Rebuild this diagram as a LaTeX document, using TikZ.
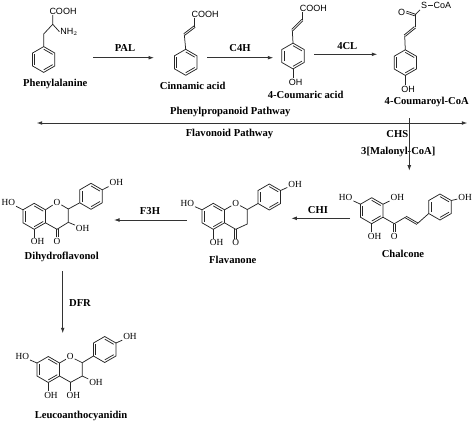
\documentclass[tikz,border=0pt]{standalone}
\usepackage{fontspec}
\setmainfont{Liberation Serif}
\newfontfamily\atomfont{Liberation Sans}
\usetikzlibrary{calc}
\usetikzlibrary{arrows.meta}

\tikzset{
  bond/.style={line width=0.75pt,black!85},
  arr/.style={line width=0.85pt,black!80,-{Latex[length=5.5pt,width=3.8pt]}},
  atom/.style={inner sep=0.8pt,font=\atomfont\fontsize{9}{10}\selectfont},
  atomr/.style={inner sep=0.8pt,font=\fontsize{9.3}{10}\selectfont},
  compound/.style={inner sep=0pt,font=\bfseries\fontsize{10.6}{12}\selectfont},
}
% ring with vertices 1..6 clockwise from the top
\newcommand{\benzene}[4]{%
  \coordinate (#1c) at (#2,#3);
  \foreach \k in {1,...,6} {\coordinate (#1\k) at ($(#1c)+({-150+60*\k}:#4)$);}
  \draw[bond] (#11)--(#12)--(#13)--(#14)--(#15)--(#16)--cycle;
  \foreach \k/\m in {1/2,3/4,5/6} {\draw[bond] ($(#1\k)!.2!(#1c)$)--($(#1\m)!.2!(#1c)$);}
}
% two parallel strokes between two points
\newcommand{\dbond}[2]{%
  \draw[bond] ($#1!0.9pt!90:#2$)--($#2!0.9pt!-90:#1$);
  \draw[bond] ($#1!0.9pt!-90:#2$)--($#2!0.9pt!90:#1$);
}

\begin{document}
\begin{tikzpicture}[x=1pt,y=-1pt]
\useasboundingbox (0,0) rectangle (474,424);

% Phenylalanine
\benzene{a}{43.7}{59.5}{12.9}
\coordinate (a7) at (43.7,34);
\coordinate (a8) at (52.7,24.3);
\node (a9) at (63,11) [atom] {COOH};
\node (a10) at (69,31.7) [atom] {NH$_2$};
\draw[bond] (a1)--(a7)--(a8)--(a8|-a9.south);
\draw[bond] (a8)--(a10.west);
\node (phe) at (55.3,84.3) [compound] {Phenylalanine};

% Cinnamic acid
\benzene{b}{185.7}{62.3}{13}
\coordinate (b7) at (184.3,34.5);
\coordinate (b8) at (194.7,26.5);
\node (b9) at (205,14) [atom] {COOH};
\draw[bond] (b1)--(b7);
\dbond{(b7)}{(b8)}
\draw[bond] (b8)--(b8|-b9.south);
\node (cin) at (192.7,86) [compound] {Cinnamic acid};

% 4-Coumaric acid
\benzene{e}{293}{56}{12.9}
\coordinate (e7) at (292.3,30);
\coordinate (e8) at (302.3,20);
\node (e9) at (313.3,8.3) [atom] {COOH};
\node (e10) at (295.7,82.3) [atom] {OH};
\draw[bond] (e1)--(e7);
\dbond{(e7)}{(e8)}
\draw[bond] (e8)--(e8|-e9.south);
\draw[bond] (e4)--(e4|-e10.north);
\node (cou) at (305.7,94.7) [compound] {4-Coumaric acid};

% 4-Coumaroyl-CoA
\benzene{g}{405.3}{62.6}{12.8}
\coordinate (g7) at (404.7,35.7);
\coordinate (g8) at (415,27.3);
\coordinate (g9) at (415,15);
\node (g10) at (401.7,12) [atom] {O};
\node (g11) at (424,5.7) [atom] {S};
\node (g12) at (442.3,5.7) [atom] {CoA};
\node (g13) at (408,89) [atom] {OH};
\draw[bond] (g1)--(g7);
\dbond{(g7)}{(g8)}
\draw[bond] (g8)--(g9);
\dbond{(g9)}{(g10.east)}
\draw[bond] (g9)--(g11);
\draw[bond] (g11)--(g12);
\draw[bond] (g4)--(g4|-g13.north);
\node (coa) at (426.7,102) [compound] {4-Coumaroyl-CoA};

% Chalcone
\benzene{c}{371.7}{210.7}{13}
\benzene{h}{440}{207}{13}
\coordinate (c7) at (394.3,223.7);
\coordinate (c8) at (405.7,217);
\coordinate (c9) at (417.3,223.7);
\node (c10) at (345.7,197.3) [atomr] {HO};
\node (c11) at (397.3,197.3) [atomr] {OH};
\node (c12) at (374.7,236) [atomr] {OH};
\node (c13) at (394.3,236.3) [atomr] {O};
\node (c14) at (465,197.3) [atomr] {OH};
\draw[bond] (c6)--(c10);
\draw[bond] (c2)--(c11);
\draw[bond] (c4)--(c4|-c12.north);
\draw[bond] (c3)--(c7)--(c8);
\dbond{(c7)}{(c7|-c13.north)}
\dbond{(c8)}{(c9)}
\draw[bond] (c9)--(h5);
\draw[bond] (h2)--(c14);
\node (cha) at (403,254.3) [compound] {Chalcone};

% Flavanone
\benzene{f}{213.3}{216.3}{13}
\benzene{j}{269.3}{197}{13}
\node (f7) at (235.7,203.3) [atomr] {O};
\coordinate (f8) at (247.3,209.5);
\coordinate (f9) at (247.3,224);
\coordinate (f10) at (235.7,229.3);
\node (f11) at (235.7,242.7) [atomr] {O};
\node (f12) at (187.3,203.3) [atomr] {HO};
\node (f13) at (216.7,242.7) [atomr] {OH};
\node (f14) at (295,184) [atomr] {OH};
\draw[bond] (f2)--(f7)--(f8)--(f9)--(f10)--(f3);
\dbond{(f10)}{(f10|-f11.north)}
\draw[bond] (f6)--(f12);
\draw[bond] (f4)--(f4|-f13.north);
\draw[bond] (f8)--(j5);
\draw[bond] (j2)--(f14);
\node (fla) at (232.8,260) [compound] {Flavanone};

% Dihydroflavonol
\benzene{d}{34.2}{216.3}{13}
\benzene{k}{91}{196.3}{13}
\node (d7) at (57,202.3) [atomr] {O};
\coordinate (d8) at (68.3,209);
\coordinate (d9) at (68.3,222.3);
\coordinate (d10) at (57,229.3);
\node (d11) at (57,241.3) [atomr] {O};
\node (d12) at (8.3,202.3) [atomr] {HO};
\node (d13) at (37.7,241.7) [atomr] {OH};
\node (d14) at (82.7,228.3) [atomr] {OH};
\node (d15) at (116.3,182.7) [atomr] {OH};
\draw[bond] (d2)--(d7)--(d8)--(d9)--(d10)--(d3);
\dbond{(d10)}{(d10|-d11.north)}
\draw[bond] (d6)--(d12);
\draw[bond] (d4)--(d4|-d13.north);
\draw[bond] (d9)--(d14);
\draw[bond] (d8)--(k5);
\draw[bond] (k2)--(d15);
\node (dih) at (61.7,256.7) [compound] {Dihydroflavonol};

% Leucoanthocyanidin
\benzene{l}{48.3}{369.5}{13}
\benzene{m}{104.7}{349.5}{13}
\node (l7) at (70.3,356.7) [atomr] {O};
\coordinate (l8) at (82.3,362.7);
\coordinate (l9) at (82.3,376);
\coordinate (l10) at (70.7,382.3);
\node (l11) at (22.3,356.7) [atomr] {HO};
\node (l12) at (51,395.3) [atomr] {OH};
\node (l13) at (73.3,395.3) [atomr] {OH};
\node (l14) at (96,382.7) [atomr] {OH};
\node (l15) at (130,336.7) [atomr] {OH};
\draw[bond] (l2)--(l7)--(l8)--(l9)--(l10)--(l3);
\draw[bond] (l6)--(l11);
\draw[bond] (l4)--(l4|-l12.north);
\draw[bond] (l10)--(l10|-l13.north);
\draw[bond] (l9)--(l14);
\draw[bond] (l8)--(m5);
\draw[bond] (m2)--(l15);
\node (leu) at (81,416) [compound] {Leucoanthocyanidin};

% enzymes and pathways
\node (pal) at (125,48) [compound] {PAL};
\node (c4h) at (240,48) [compound] {C4H};
\node (4cl) at (347.3,45.7) [compound] {4CL};
\node (ppp) at (230.3,112) [compound] {Phenylpropanoid Pathway};
\node (fvp) at (229.5,133.7) [compound] {Flavonoid Pathway};
\node (chs) at (397.3,134.3) [compound] {CHS};
\node (mal) at (398.3,151.7) [compound] {3[Malonyl-CoA]};
\node (chi) at (318,210.3) [compound] {CHI};
\node (f3h) at (150,210.7) [compound] {F3H};
\node (dfr) at (80,303) [compound] {DFR};

\coordinate (s1) at (93,57.7);
\coordinate (t1) at (154,57.7);
\coordinate (s2) at (207.3,57.7);
\coordinate (t2) at (273.3,57.7);
\coordinate (s3) at (314,54.3);
\coordinate (t3) at (377.3,54.3);
\coordinate (s4) at (36.7,123);
\coordinate (t4) at (467.3,123);
\coordinate (s5) at (409.3,118);
\coordinate (t5) at (409.3,170.7);
\coordinate (s6) at (350,218.3);
\coordinate (t6) at (291.3,218.3);
\coordinate (s7) at (186.7,220);
\coordinate (t7) at (114,220);
\coordinate (s8) at (62.7,271);
\coordinate (t8) at (62.7,333.3);

\path
(s1) edge [arr] (t1)
(s2) edge [arr] (t2)
(s3) edge [arr] (t3)
(s4) edge [arr,{Latex[length=5.5pt,width=3.8pt]}-{Latex[length=5.5pt,width=3.8pt]}] (t4)
(s5) edge [arr] (t5)
(s6) edge [arr] (t6)
(s7) edge [arr] (t7)
(s8) edge [arr] (t8);
\end{tikzpicture}
\end{document}
